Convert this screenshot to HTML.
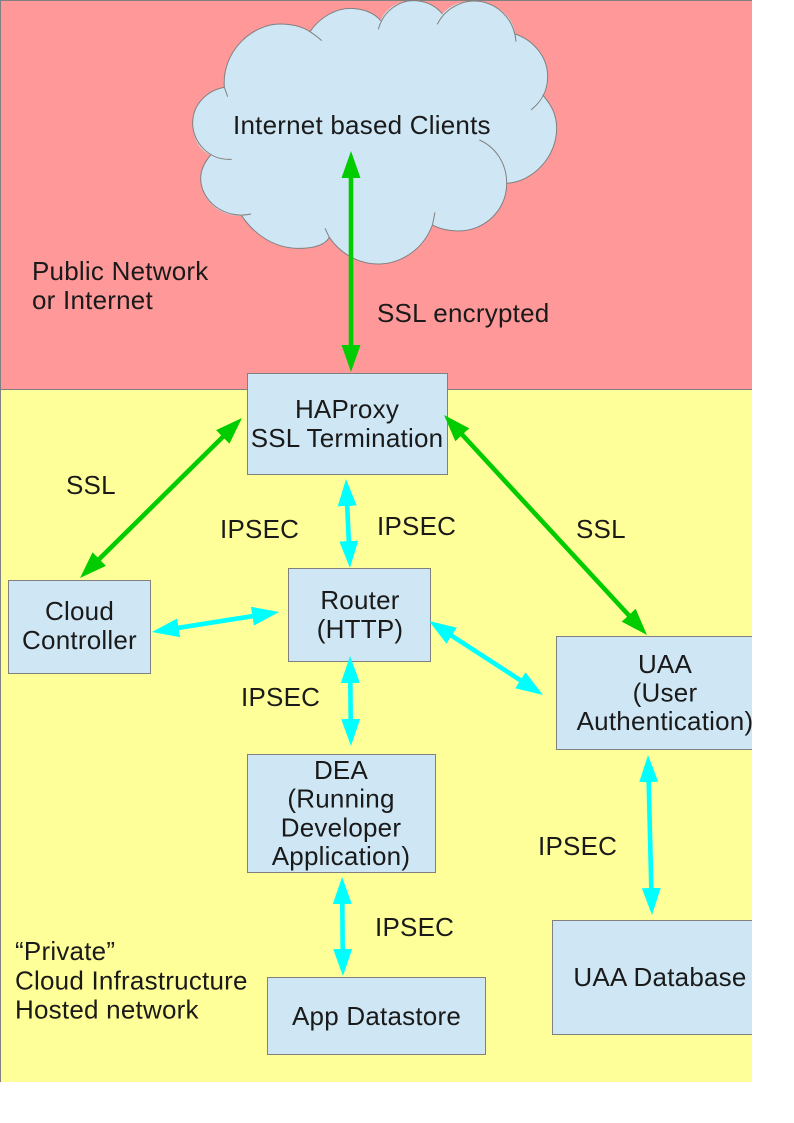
<!DOCTYPE html>
<html><head><meta charset="utf-8"><title>Network diagram</title>
<style>html,body{margin:0;padding:0;background:#fff}svg{display:block}
text{font-family:"Liberation Sans",sans-serif;font-size:26px;letter-spacing:.22px;fill:#1a1a1a}
.m{text-anchor:middle}
.b{fill:#cfe7f5;stroke:#808080;stroke-width:1}
.g{stroke:#00cc00;stroke-width:4.6;fill:none;marker-start:url(#gh);marker-end:url(#gh)}
.c{stroke:#00ffff;stroke-width:4.6;fill:none;marker-start:url(#ch);marker-end:url(#ch)}
</style></head><body>
<svg xmlns="http://www.w3.org/2000/svg" width="794" height="1123" viewBox="0 0 794 1123">
<defs>
<marker id="gh" markerUnits="userSpaceOnUse" markerWidth="30" markerHeight="22" refX="12" refY="11" orient="auto-start-reverse"><path d="M0 1.500L27 11L0 20.500z" fill="#00cc00"/></marker>
<marker id="ch" markerUnits="userSpaceOnUse" markerWidth="30" markerHeight="22" refX="12" refY="11" orient="auto-start-reverse"><path d="M0 1.500L27 11L0 20.500z" fill="#00ffff"/></marker>
<clipPath id="cp"><rect x="0" y="0" width="752" height="1123"/></clipPath>
</defs>
<g clip-path="url(#cp)">
<rect x="0.500" y="0.500" width="760" height="389" fill="#ff9999" stroke="#808080"/>
<rect x="0.500" y="389" width="760" height="693" fill="#ffff99"/>
<path d="M0.500 389V1082" stroke="#808080" fill="none"/>
<path d="M0 389.500H752" stroke="#808080" fill="none"/>

<g transform="translate(170,0) scale(.33333)" fill="none" stroke="#808080" stroke-width="3">
<path fill="#cfe7f5" stroke="none" d="M163 262C155 150 250 72 330 72C370 72 400 82 420 95C450 50 500 25 540 25C580 25 615 40 632 62C650 20 690 2 730 2C770 2 800 20 817 42C840 15 875 3 910 3C975 3 1032 50 1035 102C1090 120 1133 170 1133 230C1133 250 1128 270 1118 285C1145 315 1160 345 1160 385C1160 470 1090 545 1010 550C1012 630 945 693 865 693C835 693 805 685 787 675C760 750 690 792 625 792C565 792 510 760 478 712C465 735 430 745 385 745C310 745 250 700 215 647C150 650 92 600 92 535C92 510 105 485 122 465C85 450 68 410 68 370C68 310 115 270 163 262Z"/>
<path d="M163 262C155 150 250 72 330 72C370 72 400 82 420 95C435 105 445 112 455 122"/>
<path d="M420 95C450 50 500 25 540 25C580 25 615 40 632 62"/>
<path d="M625 88C640 30 690 2 730 2C770 2 800 20 817 42"/>
<path d="M802 73C825 25 875 3 910 3C975 3 1032 50 1038 125"/>
<path d="M1035 102C1090 120 1133 170 1133 230C1133 270 1115 305 1083 330"/>
<path d="M1118 285C1145 315 1160 345 1160 385C1160 470 1090 545 1010 550"/>
<path d="M928 420C975 440 1012 490 1010 555C1008 630 945 693 865 693C835 693 805 685 787 675"/>
<path d="M795 637C792 650 790 665 787 675C760 750 690 792 625 792C565 792 510 760 478 712L465 685"/>
<path d="M478 712C465 735 430 745 385 745C310 745 250 700 215 647"/>
<path d="M243 642C160 660 92 600 92 535C92 510 105 485 122 465"/>
<path d="M185 478C115 482 68 425 68 370C68 310 115 270 163 262L173 290"/>
</g>

<rect class="b" x="247.500" y="373.500" width="200" height="101"/>
<rect class="b" x="8.500" y="580.500" width="142" height="93"/>
<rect class="b" x="288.500" y="568.500" width="142" height="93"/>
<rect class="b" x="556.500" y="636.500" width="220" height="113"/>
<rect class="b" x="247.500" y="754.500" width="188" height="118"/>
<rect class="b" x="552.500" y="920.500" width="220" height="114"/>
<rect class="b" x="267.500" y="977.500" width="218" height="77"/>

<path class="g" d="M351 166V357"/>
<path class="g" d="M231.300 428.500L90.700 567.500"/>
<path class="g" d="M454.200 426L636.800 624"/>
<path class="c" d="M346.700 494L349.300 553"/>
<path class="c" d="M166.800 629.700L264.200 614.300"/>
<path class="c" d="M441.600 629.200L530.400 686.800"/>
<path class="c" d="M350.200 671L350.800 731"/>
<path class="c" d="M648.400 770L651.600 900"/>
<path class="c" d="M342.200 892L342.800 961"/>

<text x="233" y="134">Internet based Clients</text>
<text x="32" y="280">Public Network</text>
<text x="32" y="309">or Internet</text>
<text x="377" y="322">SSL encrypted</text>
<text class="m" x="347" y="418">HAProxy</text>
<text class="m" x="347" y="447">SSL Termination</text>
<text x="66" y="494">SSL</text>
<text x="220" y="538">IPSEC</text>
<text x="377" y="535">IPSEC</text>
<text x="576" y="538">SSL</text>
<text class="m" x="79.500" y="620">Cloud</text>
<text class="m" x="79.500" y="649">Controller</text>
<text class="m" x="360" y="609">Router</text>
<text class="m" x="360" y="638">(HTTP)</text>
<text x="241" y="706">IPSEC</text>
<text class="m" x="665" y="673">UAA</text>
<text class="m" x="665" y="701.500">(User</text>
<text class="m" x="665" y="730">Authentication)</text>
<text x="538" y="855">IPSEC</text>
<text class="m" x="341" y="779">DEA</text>
<text class="m" x="341" y="807.500">(Running</text>
<text class="m" x="341" y="836.500">Developer</text>
<text class="m" x="341" y="865">Application)</text>
<text x="375" y="936">IPSEC</text>
<text class="m" x="660" y="986">UAA Database</text>
<text class="m" x="376.500" y="1025">App Datastore</text>
<text x="15" y="960">“Private”</text>
<text x="15" y="989.500">Cloud Infrastructure</text>
<text x="15" y="1018.500">Hosted network</text>
</g>
</svg>
</body></html>
